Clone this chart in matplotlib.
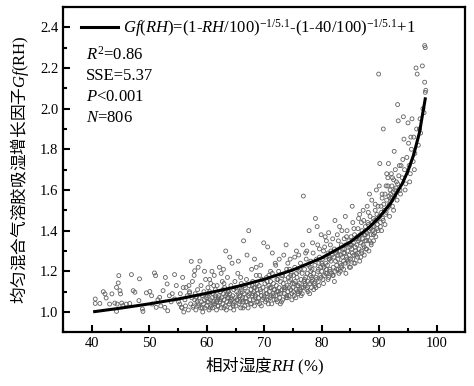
import numpy as np
import matplotlib
matplotlib.use('Agg')
import matplotlib.pyplot as plt
from matplotlib.ticker import MultipleLocator

plt.rcParams['font.family'] = ['Liberation Serif', 'Noto Sans CJK SC']
plt.rcParams['mathtext.fontset'] = 'custom'
plt.rcParams['mathtext.rm'] = 'Liberation Serif'
plt.rcParams['mathtext.it'] = 'Liberation Serif:italic'

rh_40 = [40.6, 40.6, 41.4, 42.0, 42.3, 42.5, 43.1, 43.5, 44.3, 44.6, 44.7, 44.9, 45.0, 44.0, 44.4, 45.2,
         45.4, 44.3, 46.9, 47.2, 47.5, 46.6, 46.0, 48.3, 48.2, 48.8, 48.9, 49.5]
gf_40 = [1.064, 1.042, 1.042, 1.10, 1.089, 1.069, 1.039, 1.089, 1.121, 1.143, 1.179, 1.105, 1.089, 1.044, 1.039, 1.044,
         1.031, 1.003, 1.184, 1.105, 1.097, 1.042, 1.039, 1.163, 1.056, 1.015, 1.003, 1.094]

rh_50 = [50.1, 50.4, 50.9, 51.1, 50.5, 51.2, 51.8, 52.4, 52.8, 53.1, 52.7, 53.2, 53.5, 54.4, 54.7, 54.4,
         55.3, 55.6, 56.4, 57.0, 57.3, 57.9, 57.6, 58.2,
         55.1, 55.4, 55.7, 55.9, 56.2, 56.3, 56.6, 56.8, 57.0, 57.2, 57.4, 57.5, 57.7, 57.9, 58.0, 58.1,
         58.3, 58.4, 58.6, 58.7, 58.8, 58.9, 59.0, 59.1, 59.2, 59.3, 59.4, 59.5, 59.6, 59.7, 59.8, 59.9,
         55.8, 56.9, 58.5, 59.6, 57.8, 56.0, 53.8, 51.5, 52.0, 54.0]
gf_50 = [1.101, 1.080, 1.192, 1.179, 1.039, 1.023, 1.072, 1.105, 1.170, 1.138, 1.023, 1.006, 1.080, 1.184, 1.130, 1.064,
         1.039, 1.023, 1.121, 1.094, 1.249, 1.203, 1.023, 1.072,
         1.05, 1.09, 1.02, 1.12, 1.06, 1.03, 1.08, 1.01, 1.10, 1.04, 1.07, 1.15, 1.03, 1.06, 1.09, 1.01,
         1.05, 1.11, 1.03, 1.07, 1.25, 1.02, 1.13, 1.05, 1.08, 1.00, 1.04, 1.10, 1.06, 1.02, 1.16, 1.07,
         1.17, 1.13, 1.22, 1.20, 1.18, 1.00, 1.05, 1.06, 1.03, 1.09]

rh_60 = [60.0, 60.1, 60.2, 60.3, 60.4, 60.5, 60.6, 60.7, 60.8, 60.9, 61.0, 61.1, 61.2, 61.3, 61.4, 61.5,
         61.6, 61.7, 61.8, 61.9, 62.0, 62.1, 62.2, 62.3, 62.4, 62.5, 62.6, 62.7, 62.8, 62.9, 63.0, 63.1,
         63.2, 63.3, 63.4, 63.5, 63.6, 63.7, 63.8, 63.9, 64.0, 64.1, 64.2, 64.3, 64.4, 64.5, 64.6, 64.7,
         64.8, 64.9, 65.0, 65.1, 65.2, 65.3, 65.4, 65.5, 65.6, 65.7, 65.8, 65.9, 66.0, 66.1, 66.2, 66.3,
         66.4, 66.5, 66.6, 66.7, 66.8, 66.9, 67.0, 67.1, 67.2, 67.3, 67.4, 67.5, 67.6, 67.7, 67.8, 67.9,
         68.0, 68.1, 68.2, 68.3, 68.4, 68.5, 68.6, 68.7, 68.8, 68.9, 69.0, 69.1, 69.2, 69.3, 69.4, 69.5,
         69.6, 69.7, 69.8, 69.9,
         60.3, 61.2, 62.0, 62.8, 63.5, 64.2, 65.0, 65.8, 66.5, 67.2, 68.0, 68.7, 69.5, 61.7, 63.0, 64.7,
         66.2, 67.9, 69.2, 60.9, 62.5, 64.0, 65.5, 67.0, 68.3, 63.3]
gf_60 = [1.03, 1.08, 1.12, 1.05, 1.01, 1.10, 1.06, 1.14, 1.03, 1.07, 1.02, 1.09, 1.05, 1.18, 1.04, 1.11,
         1.07, 1.01, 1.13, 1.06, 1.03, 1.08, 1.22, 1.05, 1.10, 1.02, 1.07, 1.15, 1.04, 1.09, 1.06, 1.12,
         1.03, 1.08, 1.01, 1.05, 1.17, 1.10, 1.07, 1.04, 1.09, 1.02, 1.13, 1.06, 1.24, 1.08, 1.04, 1.11,
         1.05, 1.15, 1.07, 1.03, 1.10, 1.06, 1.19, 1.09, 1.04, 1.12, 1.08, 1.02, 1.14, 1.06, 1.10, 1.05,
         1.35, 1.09, 1.03, 1.12, 1.07, 1.16, 1.05, 1.10, 1.08, 1.40, 1.13, 1.06, 1.04, 1.11, 1.21, 1.08,
         1.15, 1.06, 1.10, 1.03, 1.12, 1.08, 1.18, 1.05, 1.14, 1.09, 1.07, 1.13, 1.04, 1.11, 1.23, 1.08,
         1.16, 1.06, 1.12, 1.34,
         1.09, 1.13, 1.07, 1.11, 1.09, 1.07, 1.12, 1.05, 1.13, 1.02, 1.09, 1.11, 1.03, 1.05, 1.14, 1.01,
         1.07, 1.13, 1.18, 1.20, 1.19, 1.27, 1.25, 1.28, 1.26, 1.30]

rh_70 = [70.0, 70.1, 70.2, 70.3, 70.4, 70.5, 70.6, 70.7, 70.8, 70.9, 71.0, 71.1, 71.2, 71.3, 71.4, 71.5,
         71.6, 71.7, 71.8, 71.9, 72.0, 72.1, 72.2, 72.3, 72.4, 72.5, 72.6, 72.7, 72.8, 72.9, 73.0, 73.1,
         73.2, 73.3, 73.4, 73.5, 73.6, 73.7, 73.8, 73.9, 74.0, 74.1, 74.2, 74.3, 74.4, 74.5, 74.6, 74.7,
         74.8, 74.9, 75.0, 75.1, 75.2, 75.3, 75.4, 75.5, 75.6, 75.7, 75.8, 75.9, 76.0, 76.1, 76.2, 76.3,
         76.4, 76.5, 76.6, 76.7, 76.8, 76.9, 77.0, 77.1, 77.2, 77.3, 77.4, 77.5, 77.6, 77.7, 77.8, 77.9,
         78.0, 78.1, 78.2, 78.3, 78.4, 78.5, 78.6, 78.7, 78.8, 78.9, 79.0, 79.1, 79.2, 79.3, 79.4, 79.5,
         79.6, 79.7, 79.8, 79.9,
         70.4, 71.0, 71.6, 72.2, 72.8, 73.4, 74.0, 74.6, 75.2, 75.8, 76.4, 77.0, 77.6, 78.2, 78.8, 79.4,
         70.8, 72.0, 73.2, 74.4, 75.6, 76.8, 78.0, 79.0, 71.4, 73.8, 76.0, 77.4, 78.4, 79.6]
gf_70 = [1.08, 1.14, 1.05, 1.11, 1.17, 1.09, 1.32, 1.06, 1.13, 1.10, 1.07, 1.15, 1.12, 1.04, 1.19, 1.09,
         1.14, 1.06, 1.11, 1.24, 1.08, 1.13, 1.16, 1.05, 1.10, 1.20, 1.12, 1.07, 1.15, 1.09, 1.18, 1.11,
         1.06, 1.14, 1.28, 1.09, 1.16, 1.12, 1.07, 1.21, 1.13, 1.10, 1.17, 1.08, 1.15, 1.26, 1.11, 1.19,
         1.09, 1.14, 1.12, 1.18, 1.08, 1.22, 1.15, 1.11, 1.30, 1.17, 1.13, 1.09, 1.20, 1.14, 1.10, 1.24,
         1.16, 1.12, 1.19, 1.33, 1.57, 1.15, 1.21, 1.13, 1.17, 1.26, 1.11, 1.19, 1.15, 1.23, 1.40, 1.14,
         1.18, 1.25, 1.12, 1.21, 1.16, 1.29, 1.19, 1.14, 1.23, 1.46, 1.17, 1.26, 1.42, 1.20, 1.15, 1.24,
         1.31, 1.18, 1.22, 1.38,
         1.06, 1.12, 1.08, 1.10, 1.04, 1.12, 1.07, 1.16, 1.14, 1.10, 1.08, 1.16, 1.10, 1.17, 1.13, 1.21,
         1.18, 1.23, 1.18, 1.21, 1.19, 1.12, 1.22, 1.12, 1.29, 1.33, 1.28, 1.30, 1.34, 1.27]

rh_80 = [80.0, 80.1, 80.2, 80.3, 80.4, 80.5, 80.6, 80.7, 80.8, 80.9, 81.0, 81.1, 81.2, 81.3, 81.4, 81.5,
         81.6, 81.7, 81.8, 81.9, 82.0, 82.1, 82.2, 82.3, 82.4, 82.5, 82.6, 82.7, 82.8, 82.9, 83.0, 83.1,
         83.2, 83.3, 83.4, 83.5, 83.6, 83.7, 83.8, 83.9, 84.0, 84.1, 84.2, 84.3, 84.4, 84.5, 84.6, 84.7,
         84.8, 84.9, 85.0, 85.1, 85.2, 85.3, 85.4, 85.5, 85.6, 85.7, 85.8, 85.9, 86.0, 86.1, 86.2, 86.3,
         86.4, 86.5, 86.6, 86.7, 86.8, 86.9, 87.0, 87.1, 87.2, 87.3, 87.4, 87.5, 87.6, 87.7, 87.8, 87.9,
         88.0, 88.1, 88.2, 88.3, 88.4, 88.5, 88.6, 88.7, 88.8, 88.9, 89.0, 89.1, 89.2, 89.3, 89.4, 89.5,
         89.6, 89.7, 89.8, 89.9,
         80.2, 80.8, 81.4, 82.0, 82.6, 83.2, 83.8, 84.4, 85.0, 85.6, 86.2, 86.8, 87.4, 88.0, 88.6, 89.2,
         80.5, 81.2, 82.3, 83.5, 84.1, 85.3, 86.4, 87.2, 88.3, 89.0, 84.8, 86.0, 87.8, 89.6]
gf_80 = [1.20, 1.26, 1.16, 1.30, 1.22, 1.18, 1.27, 1.24, 1.35, 1.19, 1.23, 1.29, 1.17, 1.26, 1.21, 1.33,
         1.25, 1.19, 1.28, 1.36, 1.22, 1.27, 1.31, 1.20, 1.25, 1.29, 1.23, 1.38, 1.26, 1.21, 1.30, 1.42,
         1.24, 1.28, 1.33, 1.22, 1.27, 1.31, 1.25, 1.36, 1.29, 1.24, 1.33, 1.27, 1.40, 1.30, 1.25, 1.35,
         1.28, 1.32, 1.26, 1.37, 1.31, 1.29, 1.44, 1.34, 1.28, 1.38, 1.32, 1.30, 1.36, 1.33, 1.29, 1.41,
         1.35, 1.31, 1.48, 1.38, 1.34, 1.30, 1.40, 1.36, 1.33, 1.45, 1.38, 1.35, 1.42, 1.31, 1.39, 1.52,
         1.37, 1.43, 1.40, 1.35, 1.47, 1.41, 1.38, 1.55, 1.44, 1.40, 1.46, 1.42, 1.39, 1.50, 1.45, 1.60,
         1.48, 1.43, 1.52, 2.17,
         1.23, 1.21, 1.27, 1.18, 1.30, 1.20, 1.29, 1.26, 1.33, 1.24, 1.37, 1.27, 1.32, 1.44, 1.34, 1.45,
         1.32, 1.39, 1.45, 1.40, 1.47, 1.52, 1.46, 1.50, 1.58, 1.38, 1.22, 1.28, 1.35, 1.41]

rh_90 = [90.0, 90.1, 90.2, 90.3, 90.4, 90.5, 90.6, 90.7, 90.8, 90.9, 91.0, 91.1, 91.2, 91.3, 91.4, 91.5,
         91.6, 91.7, 91.8, 91.9, 92.0, 92.1, 92.2, 92.3, 92.4, 92.5, 92.6, 92.7, 92.8, 92.9, 93.0, 93.2,
         93.3, 93.4, 93.6, 93.8, 94.0, 94.2, 94.3, 94.4, 94.6, 94.8, 95.0, 95.1, 95.2, 95.4, 95.6, 95.7,
         95.9, 96.0, 96.2, 96.4, 96.6, 96.8, 97.0, 97.1, 97.2, 97.5, 97.6, 97.8, 97.9, 98.0, 98.1, 97.9,
         98.0, 90.4, 91.0, 91.8, 92.5, 93.1, 93.7, 94.5, 95.3, 96.1, 90.0, 91.3]
gf_90 = [1.47, 1.73, 1.44, 1.52, 1.49, 1.56, 1.46, 1.90, 1.53, 1.50, 1.58, 1.48, 1.62, 1.55, 1.51, 1.66,
         1.73, 1.57, 1.53, 1.60, 1.56, 1.68, 1.62, 1.52, 1.59, 1.65, 1.79, 1.57, 1.70, 1.61, 1.64, 2.02,
         1.94, 1.67, 1.60, 1.72, 1.66, 1.96, 1.85, 1.70, 1.63, 1.76, 1.93, 1.83, 1.72, 1.68, 1.80, 1.95,
         1.74, 1.86, 1.78, 2.20, 2.17, 1.82, 1.90, 1.95, 1.88, 2.21, 2.00, 1.98, 2.13, 2.08, 2.09, 2.31,
         2.30, 1.40, 1.43, 1.47, 1.50, 1.55, 1.58, 1.60, 1.64, 1.70, 1.62, 1.68]

# extra points in the dense band around the curve
rh_band = [58.5, 59.2, 60.1, 60.6, 61.1, 61.9, 62.4, 63.0, 63.6, 64.1, 64.6, 65.2, 65.7, 66.3, 66.8, 67.4,
           67.8, 68.4, 68.9, 69.4, 69.9, 70.3, 70.7, 71.2, 71.7, 72.1, 72.6, 73.0, 73.5, 73.9, 74.3, 74.8,
           75.1, 75.5, 75.9, 76.3, 76.6, 77.1, 77.5, 77.9, 78.3, 78.6, 79.1, 79.5, 79.9, 80.3, 80.7, 81.1,
           81.5, 81.9, 82.2, 82.6, 83.0, 83.4, 83.8, 84.2, 84.6, 85.0, 85.4, 85.8, 86.2, 86.6, 87.0, 87.4,
           87.8, 88.2, 88.6, 89.0, 89.4, 89.8, 90.2, 90.7, 91.2, 91.7, 92.2, 92.7, 93.2,
           60.5, 62.9, 65.9, 68.6, 71.1, 72.6, 74.1, 75.3, 77.2, 79.3, 80.6, 81.6, 82.9, 84.3, 85.6, 86.9,
           88.1, 89.3, 90.5, 91.5, 92.3, 93.5, 94.1, 95.5, 96.5,
           61.5, 63.8, 66.0, 68.2, 70.5, 72.4, 74.6, 76.2, 78.1, 80.0, 81.3, 82.8, 84.0, 85.2, 86.5, 87.6,
           88.8, 89.7, 90.9, 92.0]
gf_band = [1.04, 1.02, 1.05, 1.02, 1.04, 1.03, 1.06, 1.02, 1.07, 1.05, 1.03, 1.06, 1.08, 1.02, 1.05, 1.09,
           1.04, 1.07, 1.05, 1.10, 1.07, 1.09, 1.04, 1.08, 1.11, 1.06, 1.09, 1.05, 1.11, 1.08, 1.12, 1.06,
           1.10, 1.07, 1.13, 1.11, 1.09, 1.14, 1.12, 1.09, 1.15, 1.11, 1.16, 1.13, 1.17, 1.14, 1.19, 1.16,
           1.20, 1.18, 1.15, 1.21, 1.19, 1.23, 1.21, 1.19, 1.24, 1.22, 1.26, 1.24, 1.27, 1.25, 1.29, 1.28,
           1.31, 1.30, 1.33, 1.35, 1.37, 1.40, 1.42, 1.45, 1.49, 1.52, 1.55, 1.60, 1.63,
           1.16, 1.21, 1.17, 1.22, 1.20, 1.26, 1.24, 1.27, 1.29, 1.33, 1.37, 1.30, 1.35, 1.37, 1.41, 1.44,
           1.49, 1.53, 1.58, 1.62, 1.66, 1.72, 1.75, 1.86, 1.90,
           1.08, 1.10, 1.11, 1.12, 1.15, 1.16, 1.18, 1.21, 1.20, 1.24, 1.26, 1.28, 1.31, 1.33, 1.36, 1.38,
           1.42, 1.46, 1.50, 1.58]

# fitted curve
fit_rh = [40.5, 45, 50, 55, 60, 65, 70, 75, 80, 85, 88, 90, 92, 94, 95, 96, 97, 98]
fit_gf = [1.002, 1.019, 1.040, 1.064, 1.092, 1.123, 1.161, 1.207, 1.266, 1.345, 1.410, 1.465,
          1.536, 1.631, 1.694, 1.774, 1.883, 2.048]

rh = np.concatenate([rh_40, rh_50, rh_60, rh_70, rh_80, rh_90, rh_band])
gf = np.concatenate([gf_40, gf_50, gf_60, gf_70, gf_80, gf_90, gf_band])

fig = plt.figure(figsize=(4.74, 3.86), dpi=100)
ax = fig.add_axes([0.133, 0.139, 0.849, 0.843])

ax.scatter(rh, gf, s=8, facecolors='none', edgecolors='#606060', linewidths=0.6, zorder=2)
ax.plot(fit_rh, fit_gf, color='black', lw=2.2, zorder=3,
        label=r'$\mathit{Gf(RH)}$=(1-$\mathit{RH}$/100)$^{-1/5.1}$-(1-40/100)$^{-1/5.1}$+1')

ax.set_xlim(35, 105)
ax.set_ylim(0.9, 2.5)
ax.xaxis.set_minor_locator(MultipleLocator(5))
ax.yaxis.set_minor_locator(MultipleLocator(0.1))
ax.set_xticks(np.arange(40, 101, 10))
ax.set_yticks(np.arange(1.0, 2.41, 0.2))
ax.yaxis.set_major_formatter(plt.FormatStrFormatter('%.1f'))
ax.tick_params(which='both', direction='in', top=False, right=False, labelsize=10.5, width=1.5)
ax.tick_params(which='major', length=5)
ax.tick_params(which='minor', length=3)
for sp in ax.spines.values():
    sp.set_linewidth(1.6)

# non-math parts of a mathtext string use the text's own font, so CJK font here
ax.set_xlabel(r'相对湿度$\mathit{RH}\ \mathrm{(\%)}$', fontsize=12, labelpad=4,
              family='Noto Sans CJK SC')
ax.set_ylabel(r'均匀混合气溶胶吸湿增长因子$\mathit{Gf}\mathrm{(RH)}$', fontsize=12, labelpad=6,
              family='Noto Sans CJK SC')

ax.legend(loc='upper left', bbox_to_anchor=(0.02, 1.0), frameon=False, fontsize=12,
          handlelength=2.2, handletextpad=0.3, borderaxespad=0.2)

ax.text(0.057, 0.852, r'$\mathit{R}^2$=0.86', transform=ax.transAxes, fontsize=12, va='center')
ax.text(0.057, 0.787, 'SSE=5.37', transform=ax.transAxes, fontsize=12, va='center')
ax.text(0.057, 0.724, r'$\mathit{P}$<0.001', transform=ax.transAxes, fontsize=12, va='center')
ax.text(0.057, 0.660, r'$\mathit{N}$=806', transform=ax.transAxes, fontsize=12, va='center')

fig.savefig('out.png', dpi=100)
